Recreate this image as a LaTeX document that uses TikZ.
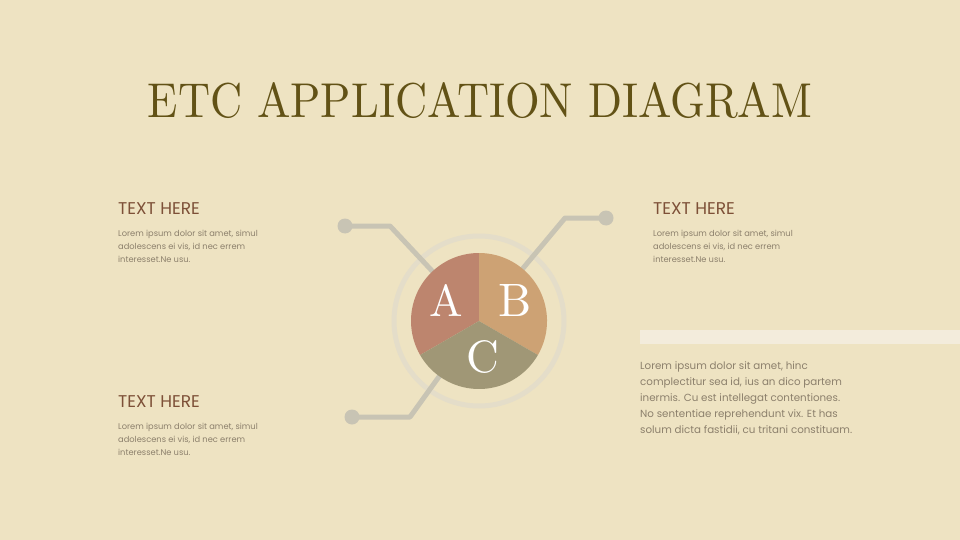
\documentclass[tikz,border=0pt]{standalone}
\usepackage{fontspec}
\usetikzlibrary{calc}
\newfontfamily\gothfont{Poppins}
\definecolor{bg}{RGB}{238,227,194}
\definecolor{titlecol}{RGB}{98,82,22}
\definecolor{headcol}{RGB}{125,80,55}
\definecolor{bodycol}{RGB}{140,128,108}
\definecolor{linkcol}{RGB}{200,196,180}
\definecolor{ringcol}{RGB}{228,221,201}
\definecolor{acol}{RGB}{189,133,110}
\definecolor{bcol}{RGB}{205,162,116}
\definecolor{ccol}{RGB}{160,151,118}
\definecolor{bandcol}{RGB}{244,238,225}
\tikzset{
  heading/.style={anchor=base west, inner sep=0pt, text=headcol, font=\gothfont\fontsize{17}{20}\selectfont},
  bodytxt/.style={anchor=north west, inner sep=0pt, text=bodycol, align=left, font=\gothfont\fontsize{8.3}{13}\selectfont},
  paratxt/.style={anchor=north west, inner sep=0pt, text=bodycol, align=left, font=\gothfont\fontsize{10.3}{16.2}\selectfont},
  link/.style={draw=linkcol, line width=5pt, line join=round},
  dot/.style={circle, fill=linkcol, minimum size=15pt, inner sep=0pt},
  letter/.style={inner sep=0pt, text=white},
}
\begin{document}
\begin{tikzpicture}[x=1pt,y=-1pt]
\fill[bg] (0,0) rectangle (960,540);
\useasboundingbox (0,0) rectangle (960,540);

% title
\node[anchor=base, inner sep=0pt, text=titlecol] (title) at (480,118) {\resizebox{664pt}{35pt}{ETC APPLICATION DIAGRAM}};

% band
\fill[bandcol, opacity=0.85] (640,330) rectangle (960,344);

% ring
\coordinate (c0) at (479,321);
\draw[ringcol, line width=5pt] (c0) circle (85);

% connectors
\node[dot] (d1) at (345,226) {};
\node[dot] (d2) at (606,218) {};
\node[dot] (d3) at (352,417) {};
\coordinate (k1) at (390,226);
\coordinate (k2) at (565,218);
\coordinate (k3) at (410,417);
\draw[link] (d1.center) -- (k1) -- ($(k1)!0.8!(c0)$);
\draw[link] (d2.center) -- (k2) -- ($(k2)!0.8!(c0)$);
\draw[link] (d3.center) -- (k3) -- ($(k3)!0.8!(c0)$);

% pie (y axis points down, so angles are mirrored)
\fill[acol] (c0) -- ++(-90:68) arc[start angle=-90, end angle=-210, radius=68] -- cycle;
\fill[bcol] (c0) -- ++(30:68) arc[start angle=30, end angle=-90, radius=68] -- cycle;
\fill[ccol] (c0) -- ++(-210:68) arc[start angle=-210, end angle=-330, radius=68] -- cycle;
\node[letter] (la) at (446,300) {\resizebox{!}{32pt}{A}};
\node[letter] (lb) at (515,300) {\resizebox{!}{32pt}{B}};
\node[letter] (lc) at (483,357) {\resizebox{!}{32pt}{C}};

% text blocks
\node[heading] (h1) at (118,214) {TEXT HERE};
\node[bodytxt] (b1) at (118,230) {Lorem ipsum dolor sit amet, simul\\adolescens ei vis, id nec errem\\interesset.Ne usu.};
\node[heading] (h2) at (118,407) {TEXT HERE};
\node[bodytxt] (b2) at (118,423) {Lorem ipsum dolor sit amet, simul\\adolescens ei vis, id nec errem\\interesset.Ne usu.};
\node[heading] (h3) at (653,214) {TEXT HERE};
\node[bodytxt] (b3) at (653,230) {Lorem ipsum dolor sit amet, simul\\adolescens ei vis, id nec errem\\interesset.Ne usu.};
\node[paratxt] (p1) at (640,361) {Lorem ipsum dolor sit amet, hinc\\complectitur sea id, ius an dico partem\\inermis. Cu est intellegat contentiones.\\No sententiae reprehendunt vix. Et has\\solum dicta fastidii, cu tritani constituam.};
\end{tikzpicture}
\end{document}
